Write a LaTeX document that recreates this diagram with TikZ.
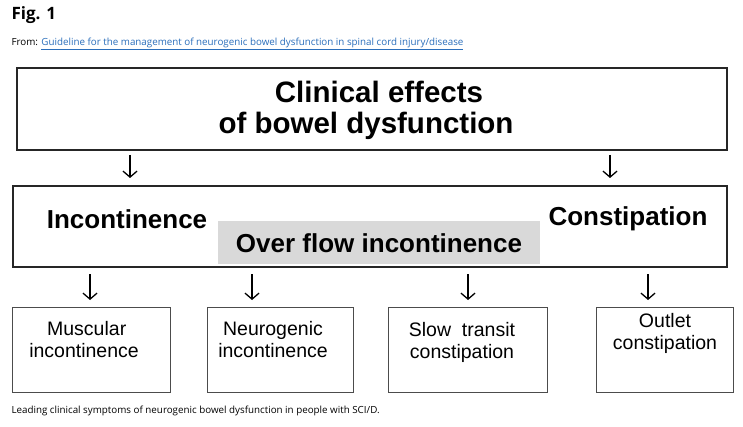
\documentclass[tikz,border=0pt]{standalone}
\usepackage{fontspec}
\usetikzlibrary{arrows.meta}
\setmainfont{Liberation Sans}
\newfontfamily\uifont{Open Sans}
\begin{document}
\begin{tikzpicture}[x=1pt,y=-1pt,
  box/.style={draw=black!85,line width=1.6pt},
  sbox/.style={draw=black!70,line width=0.8pt},
  arr/.style={line width=1.3pt,-{Straight Barb[length=6pt,width=14pt]}},
  big/.style={font=\fontsize{26}{28}\selectfont\bfseries},
  small/.style={font=\fontsize{19.5}{22}\selectfont,align=center}]
\useasboundingbox[fill=white] (0,0) rectangle (743,427);
\node[anchor=west,font=\uifont\fontsize{17}{19}\selectfont\bfseries] (fig) at (8,15) {Fig. 1};
\node[anchor=west,font=\uifont\fontsize{9.8}{11}\selectfont] (from) at (8,44) {From: \textcolor[HTML]{2A6EBB}{\underline{Guideline for the management of neurogenic bowel dysfunction in spinal cord injury/disease}}};
\draw[box] (17,68) rectangle (727,150);
\node[font=\fontsize{29.5}{31}\selectfont\bfseries,align=center] (title) at (366,110) {\hspace*{26pt}Clinical effects\\of bowel dysfunction};
\coordinate (a1s) at (130,155); \coordinate (a1e) at (130,178);
\coordinate (a2s) at (610,155); \coordinate (a2e) at (610,178);
\draw[arr] (a1s) -- (a1e);
\draw[arr] (a2s) -- (a2e);
\draw[box] (13,186) rectangle (727,267);
\node[big] (inc) at (127,219) {Incontinence};
\node[big] (con) at (628,219) {Constipation};
\node[fill=black!15,minimum width=322pt,minimum height=43pt,big] (ovf) at (379,243) {Over flow incontinence};
\foreach \x/\n in {90/b1,252/b2,468/b3,648/b4}{
  \coordinate (\n s) at (\x,274); \coordinate (\n e) at (\x,300);
  \draw[arr] (\n s) -- (\n e);}
\draw[sbox] (12,307) rectangle (170,392);
\draw[sbox] (207,307) rectangle (353,392);
\draw[sbox] (388,307) rectangle (547,392);
\draw[sbox] (596,307) rectangle (733,392);
\node[small] (m) at (84,340) {\ Muscular\\incontinence};
\node[small] (n) at (273,340) {Neurogenic\\incontinence};
\node[small] (s) at (462,342) {Slow\ \ transit\\constipation};
\node[small] (o) at (665,333) {Outlet\\constipation};
\node[anchor=west,font=\uifont\fontsize{9.8}{11}\selectfont] (cap) at (8,411) {Leading clinical symptoms of neurogenic bowel dysfunction in people with SCI/D.};
\end{tikzpicture}
\end{document}
